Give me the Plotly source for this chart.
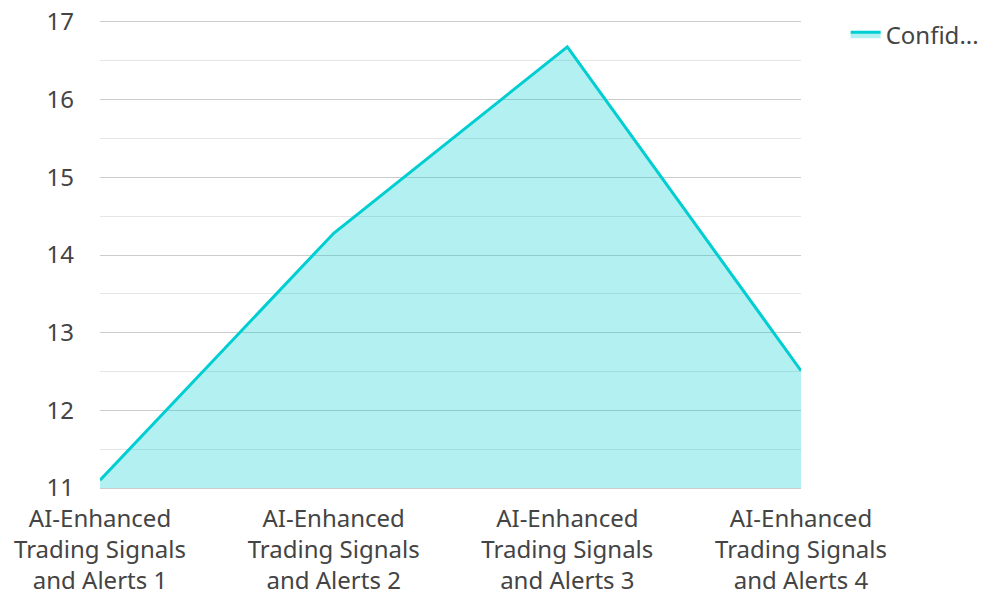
import plotly.graph_objects as go

categories = [
    "AI-Enhanced<br>Trading Signals<br>and Alerts 1",
    "AI-Enhanced<br>Trading Signals<br>and Alerts 2",
    "AI-Enhanced<br>Trading Signals<br>and Alerts 3",
    "AI-Enhanced<br>Trading Signals<br>and Alerts 4",
]
confidence = [11.1, 14.28, 16.68, 12.51]
series_name = "Confid..."
y_ticks = [11, 12, 13, 14, 15, 16, 17]

fig = go.Figure()
fig.add_trace(go.Scatter(
    x=list(range(len(categories))),
    y=confidence,
    mode="lines",
    name=series_name,
    line=dict(color="#00CED1", width=3),
    fill="tozeroy",
    fillcolor="rgba(0,206,209,0.3)",
    showlegend=True,
))

font_family = "Noto Sans, Open Sans, sans-serif"
fig.update_layout(
    width=983, height=594,
    margin=dict(l=100, r=182, t=22, b=106, autoexpand=False),
    paper_bgcolor="white", plot_bgcolor="white",
    font=dict(family=font_family, size=24, color="#444"),
    showlegend=True,
    legend=dict(x=1.0637, y=1.0214, xanchor="left", yanchor="top",
                font=dict(size=24, color="#444"), bgcolor="rgba(0,0,0,0)"),
    xaxis=dict(
        tickmode="array",
        tickvals=list(range(len(categories))),
        ticktext=categories,
        range=[0, len(categories) - 1],
        showgrid=False, zeroline=False,
        showline=True, mirror=True, linecolor="#cccccc", linewidth=1,
        ticks="", tickfont=dict(size=24, color="#444"),
        ticklabelstandoff=9, automargin=False,
    ),
    yaxis=dict(
        range=[11, 17],
        tickmode="array", tickvals=y_ticks,
        showgrid=True, gridcolor="#cccccc", gridwidth=1,
        zeroline=False, showline=False,
        ticks="", ticklen=0,
        tickfont=dict(size=24, color="#444"),
        ticklabelstandoff=25, automargin=False,
        minor=dict(dtick=0.5, showgrid=True, gridcolor="#e6e6e6", gridwidth=1),
    ),
)
fig.write_html("out.html")
